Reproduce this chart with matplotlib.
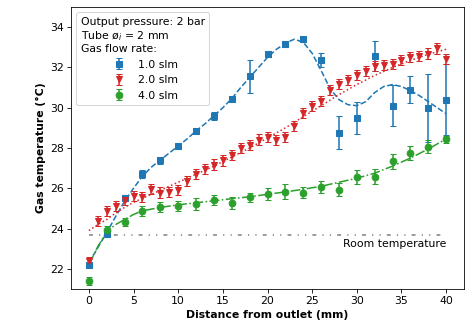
import numpy as np
import matplotlib
matplotlib.use('Agg')
import matplotlib.pyplot as plt

plt.rcParams['font.size'] = 10.6

# measured points, 1.0 slm (every 2 mm)
x_1 = [0, 2, 4, 6, 8, 10, 12, 14, 16, 18, 20, 22, 24, 26, 28, 30, 32, 34, 36, 38, 40]
t_1 = [22.2, 23.75, 25.5, 26.7, 27.38, 28.12, 28.83, 29.6, 30.45, 31.55, 32.65, 33.15, 33.4,
       32.37, 28.76, 29.49, 32.57, 30.1, 30.9, 30.0, 30.4]
e_1 = [0.15, 0.15, 0.15, 0.2, 0.15, 0.15, 0.15, 0.2, 0.15, 0.8, 0.15, 0.15, 0.15,
       0.35, 0.83, 0.79, 0.76, 1.03, 0.69, 1.68, 1.75]

# 2.0 slm (every 1 mm)
x_2 = list(range(0, 41))
t_2 = [22.4, 24.36, 24.85, 25.13, 25.43, 25.6, 25.56, 25.96, 25.79, 25.83, 25.93,
       26.34, 26.72, 26.98, 27.18, 27.38, 27.64, 28.0, 28.17, 28.42, 28.53,
       28.4, 28.56, 29.1, 29.72, 30.08, 30.33, 30.88, 31.17, 31.37, 31.62,
       31.83, 32.06, 32.11, 32.15, 32.36, 32.5, 32.56, 32.69, 32.94, 32.4]
e_2 = [0.2] + [0.25] * 40

# 4.0 slm (every 2 mm)
x_4 = [0, 2, 4, 6, 8, 10, 12, 14, 16, 18, 20, 22, 24, 26, 28, 30, 32, 34, 36, 38, 40]
t_4 = [21.42, 23.91, 24.34, 24.89, 25.05, 25.13, 25.2, 25.4, 25.27, 25.55, 25.71,
       25.84, 25.79, 26.07, 25.93, 26.58, 26.58, 27.33, 27.74, 28.07, 28.44]
e_4 = [0.2, 0.2, 0.2, 0.25, 0.25, 0.25, 0.3, 0.25, 0.3, 0.21, 0.28,
       0.35, 0.25, 0.29, 0.33, 0.35, 0.37, 0.35, 0.35, 0.33, 0.17]

# fit curves
xf_1 = list(range(0, 41))
tf_1 = [22.3, 23.05, 23.8, 24.6, 25.35, 26.0, 26.6, 27.05, 27.4, 27.75, 28.1,
        28.45, 28.85, 29.2, 29.6, 30.0, 30.45, 31.0, 31.5, 32.0, 32.5,
        32.9, 33.2, 33.4, 33.25, 32.7, 31.85, 30.95, 30.4, 30.15, 30.1,
        30.3, 30.75, 31.05, 31.15, 31.05, 30.85, 30.6, 30.3, 30.0, 29.7]
xf_2 = [0, 1, 2, 3, 4, 5, 6, 8, 10, 12, 14, 16, 18, 20, 22, 24, 26, 28, 30, 32, 34, 36, 38, 40]
tf_2 = [23.9, 24.2, 24.45, 24.77, 25.05, 25.3, 25.5, 25.9, 26.3, 26.7, 27.1, 27.55,
        28.0, 28.5, 29.0, 29.55, 30.1, 30.65, 31.15, 31.6, 32.0, 32.35, 32.65, 32.9]
xf_4 = [0, 1, 2, 3, 4, 5, 6, 8, 10, 12, 14, 16, 18, 20, 22, 24, 26, 28, 30, 32, 34, 36, 38, 40]
tf_4 = [22.2, 23.1, 23.85, 24.2, 24.45, 24.7, 24.88, 25.05, 25.18, 25.28, 25.38, 25.48,
        25.58, 25.7, 25.82, 25.95, 26.1, 26.3, 26.5, 26.75, 27.1, 27.5, 27.95, 28.45]

room_temp = 23.68
labels = ['1.0 slm', '2.0 slm', '4.0 slm']

dpi = 74
fig, ax = plt.subplots(figsize=(474.01 / dpi, 331.01 / dpi), dpi=dpi)
fig.subplots_adjust(left=71 / 474, right=464 / 474, bottom=1 - 289 / 331, top=1 - 7 / 331)

ax.plot(xf_1, tf_1, '--', color='tab:blue', lw=1.5)
ax.plot(xf_2, tf_2, ':', color='tab:red', lw=1.5)
ax.plot(xf_4, tf_4, '-.', color='tab:green', lw=1.5)
ax.plot([0, 40], [room_temp, room_temp], color='gray', lw=1.5,
        linestyle=(0, (2.5, 4, 0.8, 4, 0.8, 4)))

h1 = ax.errorbar(x_1, t_1, yerr=e_1, fmt='s', color='tab:blue', ms=6, capsize=3, label=labels[0])
h2 = ax.errorbar(x_2, t_2, yerr=e_2, fmt='v', color='tab:red', ms=6.5, capsize=3, label=labels[1])
h3 = ax.errorbar(x_4, t_4, yerr=e_4, fmt='o', color='tab:green', ms=6.5, capsize=3, label=labels[2])

ax.text(40, 23.25, 'Room temperature', ha='right', va='center')

ax.set_xlim(-2, 42)
ax.set_ylim(21, 35)
ax.set_xticks(np.arange(0, 41, 5))
ax.set_yticks(np.arange(22, 35, 2))
ax.set_xlabel('Distance from outlet (mm)', fontweight='bold')
ax.set_ylabel('Gas temperature (°C)', fontweight='bold')

leg = ax.legend(handles=[h1, h2, h3], loc='upper left',
                title='Output pressure: 2 bar\nTube ø$_i$ = 2 mm\nGas flow rate:')
leg.get_title().set_multialignment('left')

fig.savefig('out.png', dpi=dpi)
